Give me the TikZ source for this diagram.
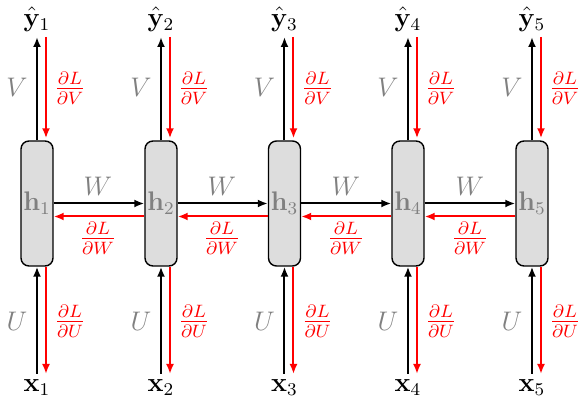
\documentclass[tikz,border=0pt]{standalone}
\usepackage{graphicx}
\usepackage{amsmath}
\usetikzlibrary{arrows.meta}
\definecolor{gradred}{RGB}{255,0,0}
\definecolor{txtgray}{RGB}{128,128,128}
\definecolor{boxfill}{RGB}{221,221,221}
\newcommand{\bigtx}[1]{\scalebox{1.12}{#1}}
\begin{document}
\begin{tikzpicture}[x=0.5pt,y=-0.5pt,
  every node/.style={font=\large},
  hbox/.style={draw=black, fill=boxfill, rounded corners=4pt, minimum width=16pt, minimum height=62.5pt, inner sep=0pt, line width=0.7pt, text=txtgray},
  fwd/.style={line width=1pt, -{Latex[length=5pt,width=4pt]}},
  bwd/.style={fwd, draw=gradred},
  wlab/.style={text=txtgray},
  glab/.style={text=gradred},
]
\useasboundingbox (0,0) rectangle (586,400);
\foreach \i/\cx in {1/37,2/161,3/284.5,4/408,5/532}{
  \node[hbox] (h\i) at (\cx,203.5) {\bigtx{$\mathbf{h}_{\i}$}};
  \node[anchor=south, inner sep=2.5pt] (y\i) at (\cx,37) {\bigtx{$\hat{\mathbf{y}}_{\i}$}};
  \node[anchor=north, inner sep=2.5pt] (x\i) at (\cx,374) {\bigtx{$\mathbf{x}_{\i}$}};
  \draw[fwd] (h\i.north) -- (y\i.south);
  \draw[bwd] ([xshift=4.5pt]y\i.south) -- ([xshift=4.5pt,yshift=1pt]h\i.north);
  \draw[fwd] (x\i.north) -- (h\i.south);
  \draw[bwd] ([xshift=4.5pt]h\i.south) -- ([xshift=4.5pt]x\i.north);
  \node[wlab] (v\i) at (\cx-20,87) {\bigtx{$V$}};
  \node[glab] (dv\i) at (\cx+33,88) {\bigtx{$\frac{\partial L}{\partial V}$}};
  \node[wlab] (u\i) at (\cx-20,321) {\bigtx{$U$}};
  \node[glab] (du\i) at (\cx+33,321) {\bigtx{$\frac{\partial L}{\partial U}$}};
}
\foreach \i/\j/\mx in {1/2/98,2/3/222,3/4/346,4/5/470}{
  \draw[fwd] (h\i.east) -- (h\j.west);
  \draw[bwd] ([yshift=-6.5pt]h\j.west) -- ([yshift=-6.5pt]h\i.east);
  \node[wlab] (w\i) at (\mx,186) {\bigtx{$W$}};
  \node[glab] (dw\i) at (\mx,238) {\bigtx{$\frac{\partial L}{\partial W}$}};
}
\end{tikzpicture}
\end{document}
